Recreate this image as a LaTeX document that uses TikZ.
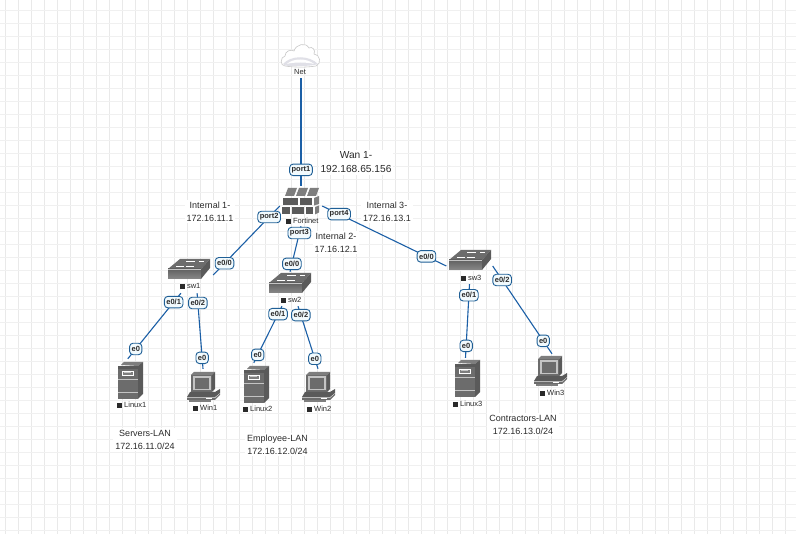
\documentclass[tikz,border=0pt]{standalone}
\usepackage{fontspec}
\setmainfont{Liberation Sans}
\definecolor{gridv}{HTML}{E9E9E9}
\definecolor{gridh}{HTML}{F0F0F0}
\definecolor{linkc}{HTML}{1B5FA6}
\definecolor{portb}{HTML}{1F5F96}
\definecolor{portf}{HTML}{F2FAFD}
\definecolor{gfront}{HTML}{6C6C6C}
\definecolor{gtop}{HTML}{5A5A5A}
\definecolor{gside}{HTML}{7E7E7E}
\definecolor{glight}{HTML}{C4C4C4}
\definecolor{txt}{HTML}{2A2A2A}
\tikzset{
  x=1pt,y=-1pt,
  link/.style={draw=linkc,line width=1.1pt},
  port/.style={draw=portb,line width=0.9pt,fill=portf,rounded corners=3.5pt,inner xsep=2pt,inner ysep=0pt,
    minimum height=11.5pt,text=txt,font=\fontsize{7.5}{8}\selectfont\bfseries},
  dev/.style={rectangle,inner sep=0pt,draw=none},
  devlbl/.style={inner sep=0pt,text=txt,font=\fontsize{7.5}{8}\selectfont},
  note/.style={fill=white,align=center,inner sep=2pt,text=txt},
  small/.style={font=\fontsize{9}{13}\selectfont},
  big/.style={font=\fontsize{10.2}{14}\selectfont},
  sw/.pic={
    \fill[gfront] (12,0)--(42,0)--(33,10)--(0,10)--cycle;
    \shade[top color=gfront!90!black,bottom color=gfront!80!white] (0,10) rectangle (33,20);
    \fill[gtop] (33,10)--(42,0)--(42,9)--(33,20)--cycle;
    \draw[glight,line width=.5pt] (0,10)--(33,10);
    \draw[white,line width=.7pt] (18,2.5)--(27,2.5) (16,7.5)--(8,7.5) (26,7.5)--(18,7.5) (31,2.5)--(36,2.5);
  },
  wall/.pic={
    \fill[gside] (3,8)--(6,0)--(15,0)--(12,8)--cycle;
    \fill[gside] (14,8)--(17,0)--(26,0)--(23,8)--cycle;
    \fill[gside] (25,8)--(28,0)--(37,0)--(34,8)--cycle;
    \fill[gtop] (1,10) rectangle (16,17.5);
    \fill[gtop] (18,10) rectangle (30,17.5);
    \fill[gside] (32,10) -- (37,8) -- (37,16) -- (32,17.5) -- cycle;
    \fill[gtop] (0,19) rectangle (8,26.5);
    \fill[gtop] (10,19) rectangle (22,26.5);
    \fill[gtop] (24,19) rectangle (31,26.5);
    \fill[gside] (33,19) -- (37,17.5) -- (37,24.5) -- (33,26.5) -- cycle;
  },
  tower/.pic={
    \fill[gside] (3,3)--(6,0)--(25,0)--(20,4)--cycle;
    \fill[gfront] (0,4) rectangle (20,37);
    \fill[gtop] (20,4)--(25,0)--(25,32)--(20,37)--cycle;
    \fill[glight] (0,17) rectangle (20,18.2);
    \fill[gtop] (0,4) rectangle (20,7);
    \draw[white,line width=.6pt,fill=gside] (4,9) rectangle (15,13);
    \fill[glight] (6,10.5) rectangle (13,11.5);
    \fill[glight] (0,30.2) rectangle (20,31);
  },
  pc/.pic={
    \fill[gside] (4,3)--(25,3)--(28,0)--(7,0)--cycle;
    \fill[gtop] (25,3)--(28,0)--(28,17)--(25,20)--cycle;
    \fill[gfront] (4,3) rectangle (25,20);
    \fill[glight] (6,4.5) rectangle (23.5,18.5);
    \fill[gfront] (7.5,6) rectangle (22,17);
    \fill[gtop] (3,20)--(28,20)--(33,17)--(33,21)--(28,25)--(0,25)--cycle;
    \fill[glight] (0,25) rectangle (28,26);
    \fill[gfront] (0,26)--(28,26)--(33,21.5)--(33,23)--(28,28)--(0,28)--cycle;
    \fill[gside] (2,28) rectangle (24,30);
    \fill[white] (19,26.5) rectangle (25,27.3);
  },
  cloudicon/.pic={
    \draw[draw=black!22,line width=.6pt,fill=white]
      (4,23) .. controls (-1,23) and (-1,14) .. (4,13)
      .. controls (4,8) and (10,6) .. (13,8)
      .. controls (15,1) and (25,-1) .. (28,5)
      .. controls (31,3) and (35,7) .. (33,11)
      .. controls (39,11) and (41,21) .. (35,23)
      .. controls (25,24.5) and (14,24.5) .. (4,23) -- cycle;
    \fill[blue!20!black!12] (2,21) .. controls (10,12) and (28,12) .. (37,21)
      .. controls (30,23.5) and (10,23.5) .. (4,22.5) -- cycle;
    \fill[white] (6,21) .. controls (12,15) and (26,15) .. (33,21)
      .. controls (26,19) and (12,19) .. (6,21) -- cycle;
  }
}
\newcommand{\devsq}{\rule[-.3pt]{5pt}{5pt}\hspace{2.5pt}}
\begin{document}
\begin{tikzpicture}
\useasboundingbox (0,0) rectangle (796,534);
\fill[white] (0,0) rectangle (796,534);
% grid
\foreach \k in {0,...,60}{\draw[gridv,line width=1pt] ({5+13*\k},0)--({5+13*\k},534);}
\foreach \k in {0,...,40}{\draw[gridh,line width=1pt] (0,{11+13*\k})--(796,{11+13*\k});}
% icons
\pic at (281,43) {cloudicon};
\pic at (282,188) {wall};
\pic at (168,259) {sw};
\pic at (269,273) {sw};
\pic at (449,250) {sw};
\pic at (118,362) {tower};
\pic at (244,366) {tower};
\pic at (455,360) {tower};
\pic at (187,372) {pc};
\pic at (302,372) {pc};
\pic at (534,356) {pc};
% device anchors
\node[dev,minimum width=24pt,minimum height=36pt] (net) at (301,60) {};
\node[dev,minimum width=42pt,minimum height=40pt] (fw) at (301,206) {};
\node[dev,minimum width=48pt,minimum height=36pt] (sw1) at (189,275) {};
\node[dev,minimum width=44pt,minimum height=34pt] (sw2) at (290,289) {};
\node[dev,minimum width=46pt,minimum height=36pt] (sw3) at (469.5,266) {};
\node[dev,minimum width=32pt,minimum height=50pt] (linux1) at (130,384) {};
\node[dev,minimum width=32pt,minimum height=50pt] (linux2) at (256,388) {};
\node[dev,minimum width=32pt,minimum height=52pt] (linux3) at (465.5,384) {};
\node[dev,minimum width=38pt,minimum height=44pt] (win1) at (203,391) {};
\node[dev,minimum width=38pt,minimum height=44pt] (win2) at (318,391) {};
\node[dev,minimum width=38pt,minimum height=44pt] (win3) at (552,376) {};
% device labels
\node[devlbl] (net-l) at (300,72) {Net};
\node[devlbl] (fw-l) at (302,221) {\devsq Fortinet};
\node[devlbl] (sw1-l) at (190,286.5) {\devsq sw1};
\node[devlbl] (sw2-l) at (291,300) {\devsq sw2};
\node[devlbl] (sw3-l) at (471,278) {\devsq sw3};
\node[devlbl] (linux1-l) at (131.5,405) {\devsq Linux1};
\node[devlbl] (linux2-l) at (257.5,409) {\devsq Linux2};
\node[devlbl] (linux3-l) at (467.5,404) {\devsq Linux3};
\node[devlbl] (win1-l) at (205,408) {\devsq Win1};
\node[devlbl] (win2-l) at (319,409) {\devsq Win2};
\node[devlbl] (win3-l) at (552,393) {\devsq Win3};
% connectors
\draw[link] (net.south) -- node[port,pos=.852] (p1) {port1} (fw.north);
\draw[link] (fw.west) -- node[port,pos=.16] (p2) {port2} node[port,pos=.83] (s1p0) {e0/0} (sw1.east);
\draw[link] (fw.south) -- node[port,pos=.15] (p3) {port3} node[port,pos=.826] (s2p0) {e0/0} (sw2.north);
\draw[link] (fw.east) -- node[port,pos=.136] (p4) {port4} node[port,pos=.84] (s3p0) {e0/0} (sw3.west);
\draw[link] (sw1.246) -- node[port,pos=.136] (s1p1) {e0/1} node[port,pos=.85] (l1p) {e0} (linux1.95);
\draw[link] (sw1.294) -- node[port,pos=.13] (s1p2) {e0/2} node[port,pos=.855] (w1p) {e0} (win1.north);
\draw[link] (sw2.245) -- node[port,pos=.14] (s2p1) {e0/1} node[port,pos=.86] (l2p) {e0} (linux2.95);
\draw[link] (sw2.295) -- node[port,pos=.143] (s2p2) {e0/2} node[port,pos=.84] (w2p) {e0} (win2.north);
\draw[link] (sw3.south) -- node[port,pos=.15] (s3p1) {e0/1} node[port,pos=.838] (l3p) {e0} (linux3.north);
\draw[link] (sw3.east) -- node[port,pos=.16] (s3p2) {e0/2} node[port,pos=.852] (w3p) {e0} (win3.north);
% notes
\node[note,big] (wan) at (356,162.5) {Wan 1-\\192.168.65.156};
\node[note,small] (int1) at (210,211.5) {Internal 1-\\172.16.11.1};
\node[note,small] (int2) at (336,242.5) {Internal 2-\\17.16.12.1};
\node[note,small] (int3) at (387,211.5) {Internal 3-\\172.16.13.1};
\node[note,small] (lan1) at (145,439.5) {Servers-LAN\\172.16.11.0/24};
\node[note,small] (lan2) at (277.5,444.5) {Employee-LAN\\172.16.12.0/24};
\node[note,small] (lan3) at (523,424.5) {Contractors-LAN\\172.16.13.0/24};
\end{tikzpicture}
\end{document}
